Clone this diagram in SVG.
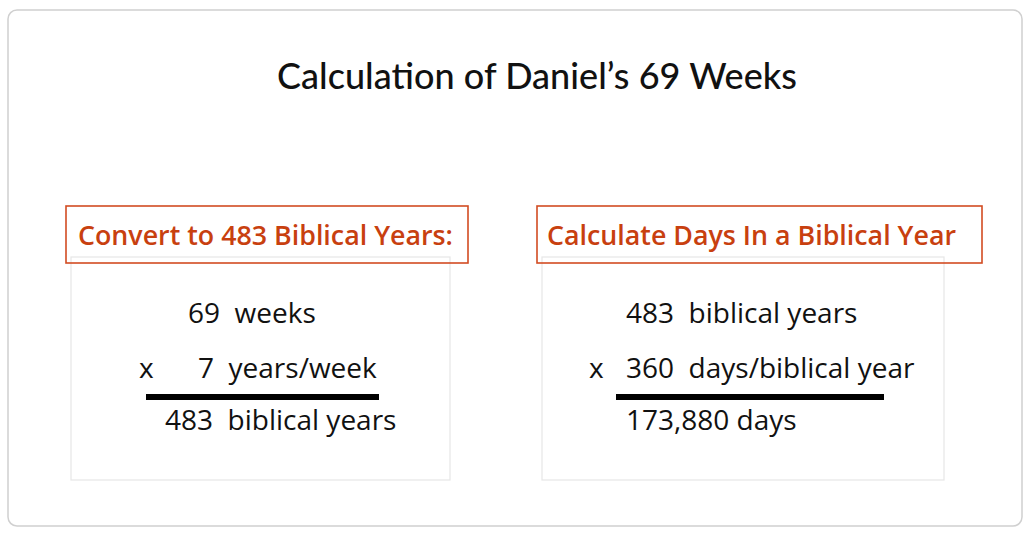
<svg xmlns="http://www.w3.org/2000/svg" width="1030" height="546" viewBox="0 0 1030 546">
<style>
.title{font-family:Lato,"Open Sans",sans-serif;font-size:36px;font-weight:500;fill:#111}
.hdr{font-family:"Open Sans","Noto Sans",sans-serif;font-size:26.8px;font-weight:600;fill:#C8400F}
.hbox{fill:none;stroke:#D24C22;stroke-width:1.6}
.ibox{fill:#fff;stroke:#e6e6e6;stroke-width:1.2}
.t{font-family:"Open Sans","Noto Sans",sans-serif;font-size:28px;fill:#111;white-space:pre}
.bar{stroke:#000;stroke-width:6}
</style>
<rect x="8" y="10" width="1014" height="516" rx="9" fill="#fff" stroke="#d0d0d0" stroke-width="1.5"/>
<text class="title" x="277" y="89" textLength="520" lengthAdjust="spacing">Calculation of Daniel’s 69 Weeks</text>
<g id="left">
<rect class="ibox" x="71" y="257" width="379" height="223"/>
<rect class="hbox" x="66" y="206" width="402" height="57"/>
<text class="hdr" x="78" y="245">Convert to 483 Biblical Years:</text>
<text class="t" x="188" y="323" xml:space="preserve">69  weeks</text>
<text class="t" x="139" y="378">x</text>
<text class="t" x="198" y="378" xml:space="preserve">7  years/week</text>
<line class="bar" x1="146" y1="397" x2="379" y2="397"/>
<text class="t" x="165" y="430" xml:space="preserve">483  biblical years</text>
</g>
<g id="right">
<rect class="ibox" x="542" y="257" width="402" height="223"/>
<rect class="hbox" x="537" y="206" width="445" height="57"/>
<text class="hdr" x="547" y="245">Calculate Days In a Biblical Year</text>
<text class="t" x="626" y="323" xml:space="preserve">483  biblical years</text>
<text class="t" x="589" y="378">x</text>
<text class="t" x="626" y="378" xml:space="preserve">360  days/biblical year</text>
<line class="bar" x1="616" y1="397" x2="884" y2="397"/>
<text class="t" x="626" y="430">173,880 days</text>
</g>
</svg>
